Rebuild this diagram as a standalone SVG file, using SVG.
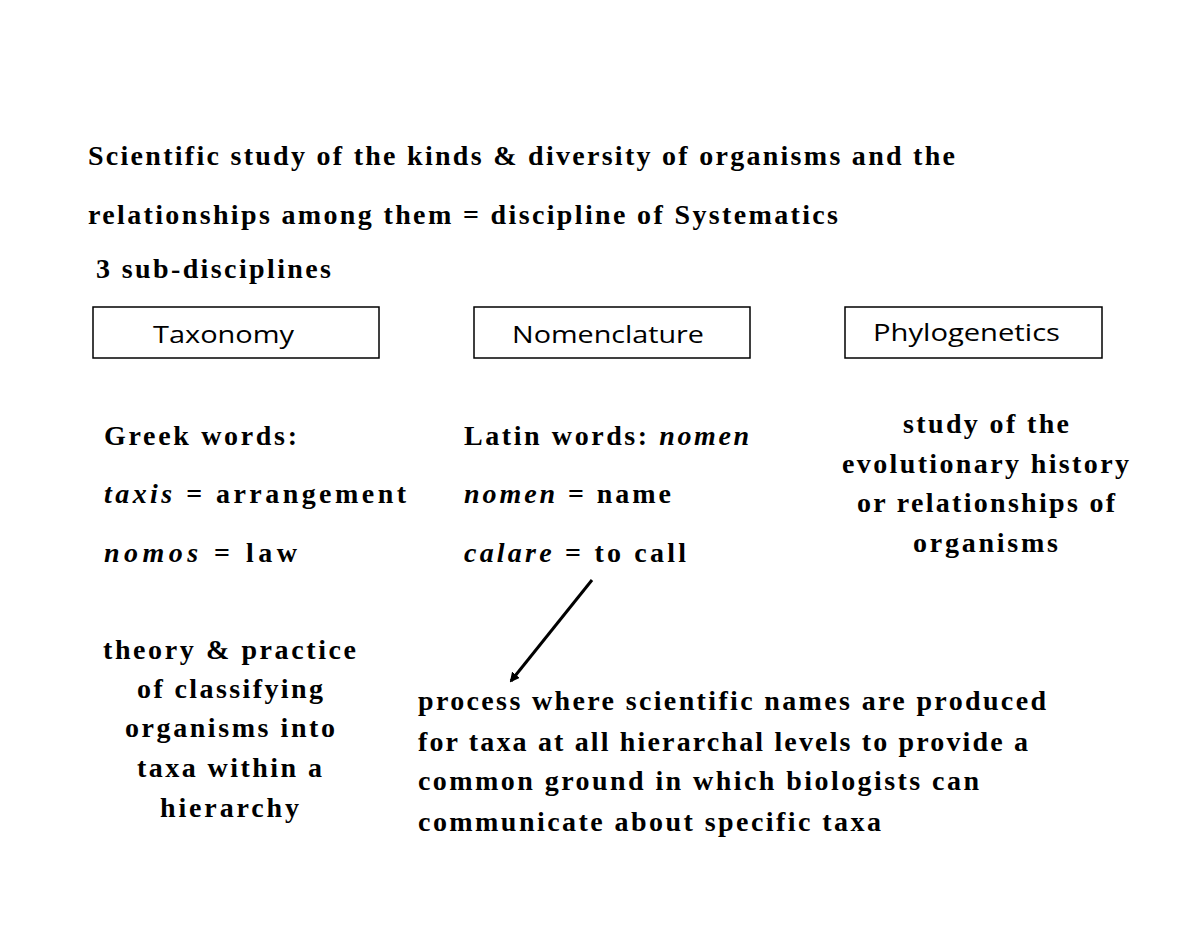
<svg xmlns="http://www.w3.org/2000/svg" width="1200" height="927" viewBox="0 0 1200 927">
<style>
.t{font-family:"Liberation Serif",serif;font-weight:bold;font-size:28px;fill:#000}
.b{font-family:"Open Sans","Liberation Sans",sans-serif;font-size:24px;fill:#000}
.box{fill:#fff;stroke:#000;stroke-width:1.5}
</style>
<defs><marker id="ah" markerWidth="10" markerHeight="10" refX="8" refY="5" orient="auto" markerUnits="userSpaceOnUse" viewBox="0 0 10 10"><path d="M0,0 L10,5 L0,10 Z" fill="#000"/></marker></defs>
<rect width="1200" height="927" fill="#fff"/>
<g id="title">
<text class="t" x="88" y="165" textLength="867" lengthAdjust="spacing">Scientific study of the kinds &amp; diversity of organisms and the</text>
<text class="t" x="88" y="224" textLength="750" lengthAdjust="spacing">relationships among them = discipline of Systematics</text>
<text class="t" x="96" y="278" textLength="235" lengthAdjust="spacing">3 sub-disciplines</text>
</g>
<g id="taxonomy"><rect class="box" x="93" y="307" width="286" height="51"/><text class="b" x="153" y="343" textLength="141" lengthAdjust="spacingAndGlyphs">Taxonomy</text></g>
<g id="nomenclature"><rect class="box" x="474" y="307" width="276" height="51"/><text class="b" x="512" y="343" textLength="192" lengthAdjust="spacingAndGlyphs">Nomenclature</text></g>
<g id="phylogenetics"><rect class="box" x="845" y="307" width="257" height="51"/><text class="b" x="873" y="341" textLength="187" lengthAdjust="spacingAndGlyphs">Phylogenetics</text></g>
<g id="greek">
<text class="t" x="104" y="445" textLength="193" lengthAdjust="spacing">Greek words:</text>
<text class="t" x="104" y="503" textLength="302" lengthAdjust="spacing"><tspan font-style="italic">taxis</tspan>  =  arrangement</text>
<text class="t" x="104" y="562" textLength="193" lengthAdjust="spacing"><tspan font-style="italic">nomos</tspan>  =  law</text>
</g>
<g id="latin">
<text class="t" x="464" y="445" textLength="285" lengthAdjust="spacing">Latin words: <tspan font-style="italic">nomen</tspan></text>
<text class="t" x="464" y="503" textLength="207" lengthAdjust="spacing"><tspan font-style="italic">nomen</tspan> = name</text>
<text class="t" x="464" y="562" textLength="222" lengthAdjust="spacing"><tspan font-style="italic">calare</tspan>  =  to call</text>
</g>
<g id="phylo-def">
<text class="t" x="903" y="433" textLength="166" lengthAdjust="spacing">study of the</text>
<text class="t" x="842" y="473" textLength="287" lengthAdjust="spacing">evolutionary history</text>
<text class="t" x="857" y="512" textLength="258" lengthAdjust="spacing">or relationships of</text>
<text class="t" x="913" y="552" textLength="145" lengthAdjust="spacing">organisms</text>
</g>
<g id="taxonomy-def">
<text class="t" x="103" y="659" textLength="253" lengthAdjust="spacing">theory &amp; practice</text>
<text class="t" x="137" y="698" textLength="186" lengthAdjust="spacing">of classifying</text>
<text class="t" x="125" y="737" textLength="210" lengthAdjust="spacing">organisms into</text>
<text class="t" x="137" y="777" textLength="185" lengthAdjust="spacing">taxa within a</text>
<text class="t" x="160" y="817" textLength="139" lengthAdjust="spacing">hierarchy</text>
</g>
<g id="nomenclature-def">
<text class="t" x="418" y="710" textLength="628" lengthAdjust="spacing">process where scientific names are produced</text>
<text class="t" x="418" y="751" textLength="610" lengthAdjust="spacing">for taxa at all hierarchal levels to provide a</text>
<text class="t" x="418" y="790" textLength="561" lengthAdjust="spacing">common ground in which biologists can</text>
<text class="t" x="418" y="831" textLength="463" lengthAdjust="spacing">communicate about specific taxa</text>
</g>
<g id="connectors"><line x1="592" y1="580" x2="511" y2="681" stroke="#000" stroke-width="3" marker-end="url(#ah)"/></g>
</svg>
